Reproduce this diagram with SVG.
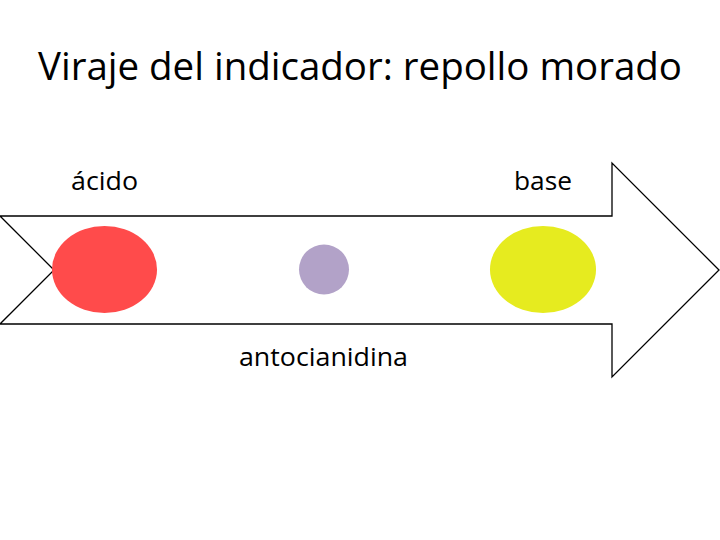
<svg xmlns="http://www.w3.org/2000/svg" width="720" height="540" viewBox="0 0 720 540">
<style>
text{font-family:"Open Sans","Liberation Sans",sans-serif;fill:#000}
.lbl{font-size:25px}
.arrow{fill:#fff;stroke:#000;stroke-width:1.3}
</style>
<rect width="720" height="540" fill="#fff"/>
<text x="360" y="80" text-anchor="middle" font-size="38" textLength="644" lengthAdjust="spacingAndGlyphs">Viraje del indicador: repollo morado</text>
<g id="arrow">
<path class="arrow" d="M0,216 L612,216 L612,163 L719,270 L612,377 L612,324 L0,324 L54,270 Z"/>
</g>
<g id="acido">
<ellipse cx="104.5" cy="269.5" rx="52.5" ry="43.5" fill="#FF4B4B"/>
<text class="lbl" x="104.5" y="190" text-anchor="middle" textLength="67" lengthAdjust="spacingAndGlyphs">ácido</text>
</g>
<g id="antocianidina">
<circle cx="324" cy="269.5" r="25" fill="#B2A2C8"/>
<text class="lbl" x="323.5" y="366" text-anchor="middle" textLength="169" lengthAdjust="spacingAndGlyphs">antocianidina</text>
</g>
<g id="base">
<ellipse cx="543" cy="269.5" rx="53" ry="43.5" fill="#E6EB1F"/>
<text class="lbl" x="543" y="190" text-anchor="middle" textLength="58" lengthAdjust="spacingAndGlyphs">base</text>
</g>
<g id="connectors"></g>
</svg>
